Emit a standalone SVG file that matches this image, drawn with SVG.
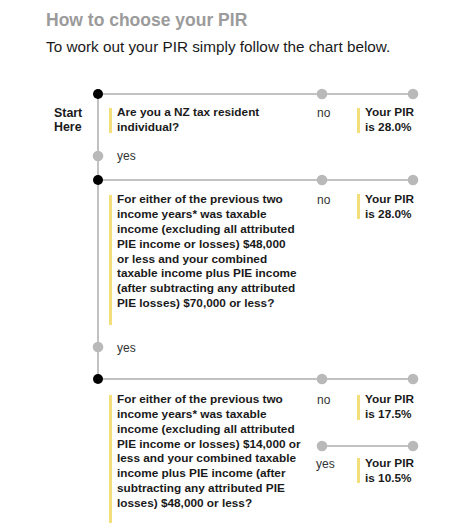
<svg xmlns="http://www.w3.org/2000/svg" width="466" height="531" viewBox="0 0 466 531">
<style>
.t{font-family:"Liberation Sans",Arial,sans-serif;fill:#1a1a1a}
.b{font-weight:bold;font-size:11.8px}
.r{font-size:12px;fill:#333}
.ln{stroke:#c2c2c2;stroke-width:2;fill:none}
.g{fill:#b9b9b9}
.k{fill:#000}
.y{fill:#f3df7a}
</style>
<rect width="466" height="531" fill="#fff"/>
<text x="46" y="26" font-family="Liberation Sans,Arial,sans-serif" font-weight="bold" font-size="17.5" fill="#9b9b9b">How to choose your PIR</text>
<text x="46" y="52" class="t" font-size="15.3" fill="#222">To work out your PIR simply follow the chart below.</text>
<g id="connectors">
<line class="ln" x1="98" y1="94" x2="98" y2="379"/>
<line class="ln" x1="98" y1="94" x2="413" y2="94"/>
<line class="ln" x1="98" y1="180" x2="413" y2="180"/>
<line class="ln" x1="98" y1="379" x2="413" y2="379"/>
<line class="ln" x1="322" y1="446" x2="413" y2="446"/>
<circle class="k" cx="98" cy="94" r="5"/>
<circle class="g" cx="322" cy="94" r="5.3"/>
<circle class="g" cx="413" cy="94" r="5.3"/>
<circle class="g" cx="98" cy="156" r="5.3"/>
<circle class="k" cx="98" cy="180" r="5"/>
<circle class="g" cx="322" cy="180" r="5.3"/>
<circle class="g" cx="413" cy="180" r="5.3"/>
<circle class="g" cx="98" cy="347" r="5.3"/>
<circle class="k" cx="98" cy="379" r="5"/>
<circle class="g" cx="322" cy="379" r="5.3"/>
<circle class="g" cx="413" cy="379" r="5.3"/>
<circle class="g" cx="322" cy="446" r="5.3"/>
<circle class="g" cx="413" cy="446" r="5.3"/>
<text class="t r" x="117" y="160">yes</text>
<text class="t r" x="117" y="352">yes</text>
<text class="t r" x="317" y="117">no</text>
<text class="t r" x="317" y="204">no</text>
<text class="t r" x="317" y="404">no</text>
<text class="t r" x="316" y="468">yes</text>
</g>
<g id="start">
<text class="t" font-weight="bold" font-size="12.4" x="54" y="117">Start</text>
<text class="t" font-weight="bold" font-size="12.4" x="54" y="131">Here</text>
</g>
<g id="q1">
<rect class="y" x="109" y="108" width="3" height="25"/>
<text class="t b" x="117" y="116">Are you a NZ tax resident</text>
<text class="t b" x="117" y="131">individual?</text>
</g>
<g id="r1">
<rect class="y" x="357" y="108" width="3" height="25"/>
<text class="t b" x="365" y="116">Your PIR</text>
<text class="t b" x="365" y="131">is 28.0%</text>
</g>
<g id="q2">
<rect class="y" x="109" y="195" width="3" height="130"/>
<text class="t b" x="117" y="203">For either of the previous two</text>
<text class="t b" x="117" y="218">income years* was taxable</text>
<text class="t b" x="117" y="233">income (excluding all attributed</text>
<text class="t b" x="117" y="248">PIE income or losses) $48,000</text>
<text class="t b" x="117" y="263">or less and your combined</text>
<text class="t b" x="117" y="277">taxable income plus PIE income</text>
<text class="t b" x="117" y="292">(after subtracting any attributed</text>
<text class="t b" x="117" y="307">PIE losses) $70,000 or less?</text>
</g>
<g id="r2">
<rect class="y" x="357" y="194" width="3" height="25"/>
<text class="t b" x="365" y="203">Your PIR</text>
<text class="t b" x="365" y="218">is 28.0%</text>
</g>
<g id="q3">
<rect class="y" x="109" y="395" width="3" height="128"/>
<text class="t b" x="117" y="403">For either of the previous two</text>
<text class="t b" x="117" y="418">income years* was taxable</text>
<text class="t b" x="117" y="433">income (excluding all attributed</text>
<text class="t b" x="117" y="448">PIE income or losses) $14,000 or</text>
<text class="t b" x="117" y="462">less and your combined taxable</text>
<text class="t b" x="117" y="477">income plus PIE income (after</text>
<text class="t b" x="117" y="492">subtracting any attributed PIE</text>
<text class="t b" x="117" y="507">losses) $48,000 or less?</text>
</g>
<g id="r3">
<rect class="y" x="357" y="395" width="3" height="25"/>
<text class="t b" x="365" y="403">Your PIR</text>
<text class="t b" x="365" y="418">is 17.5%</text>
</g>
<g id="r4">
<rect class="y" x="357" y="458" width="3" height="25"/>
<text class="t b" x="365" y="467">Your PIR</text>
<text class="t b" x="365" y="482">is 10.5%</text>
</g>
</svg>
